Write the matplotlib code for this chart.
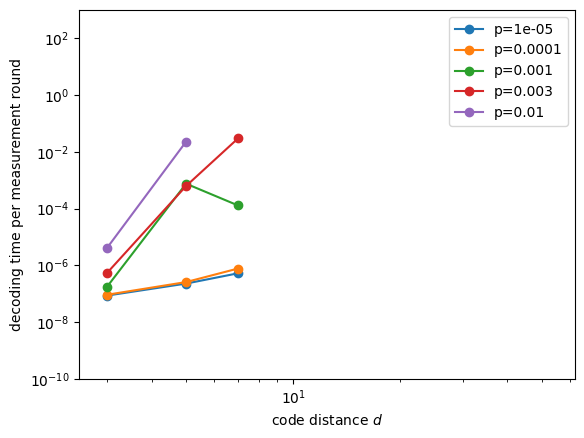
import numpy as np
import matplotlib
matplotlib.use("Agg")
import matplotlib.pyplot as plt

distances = [3, 5, 7]
labels = ["p=1e-05", "p=0.0001", "p=0.001", "p=0.003", "p=0.01"]
t_1e5 = [8.7e-8, 2.3e-7, 5.3e-7]
t_1e4 = [9.3e-8, 2.6e-7, 7.8e-7]
t_1e3 = [1.8e-7, 7.6e-4, 1.3e-4]
t_3e3 = [5.5e-7, 6.3e-4, 3.0e-2]
t_1e2 = [4.2e-6, 2.3e-2]

series = [t_1e5, t_1e4, t_1e3, t_3e3, t_1e2]

fig = plt.figure(figsize=(5.84, 4.38), dpi=100)
ax = fig.add_axes([79 / 584, (438 - 379) / 438, 496 / 584, 369 / 438])

for lab, vals in zip(labels, series):
    ax.plot(distances[:len(vals)], vals, "o-", label=lab)

ax.set_xscale("log")
ax.set_yscale("log")
ax.set_xlim(2.5, 62)
ax.set_ylim(1e-10, 1e3)
ax.set_xlabel("code distance $d$")
ax.set_ylabel("decoding time per measurement round")
ax.legend(loc="upper right")

fig.savefig("out.png", dpi=100)
